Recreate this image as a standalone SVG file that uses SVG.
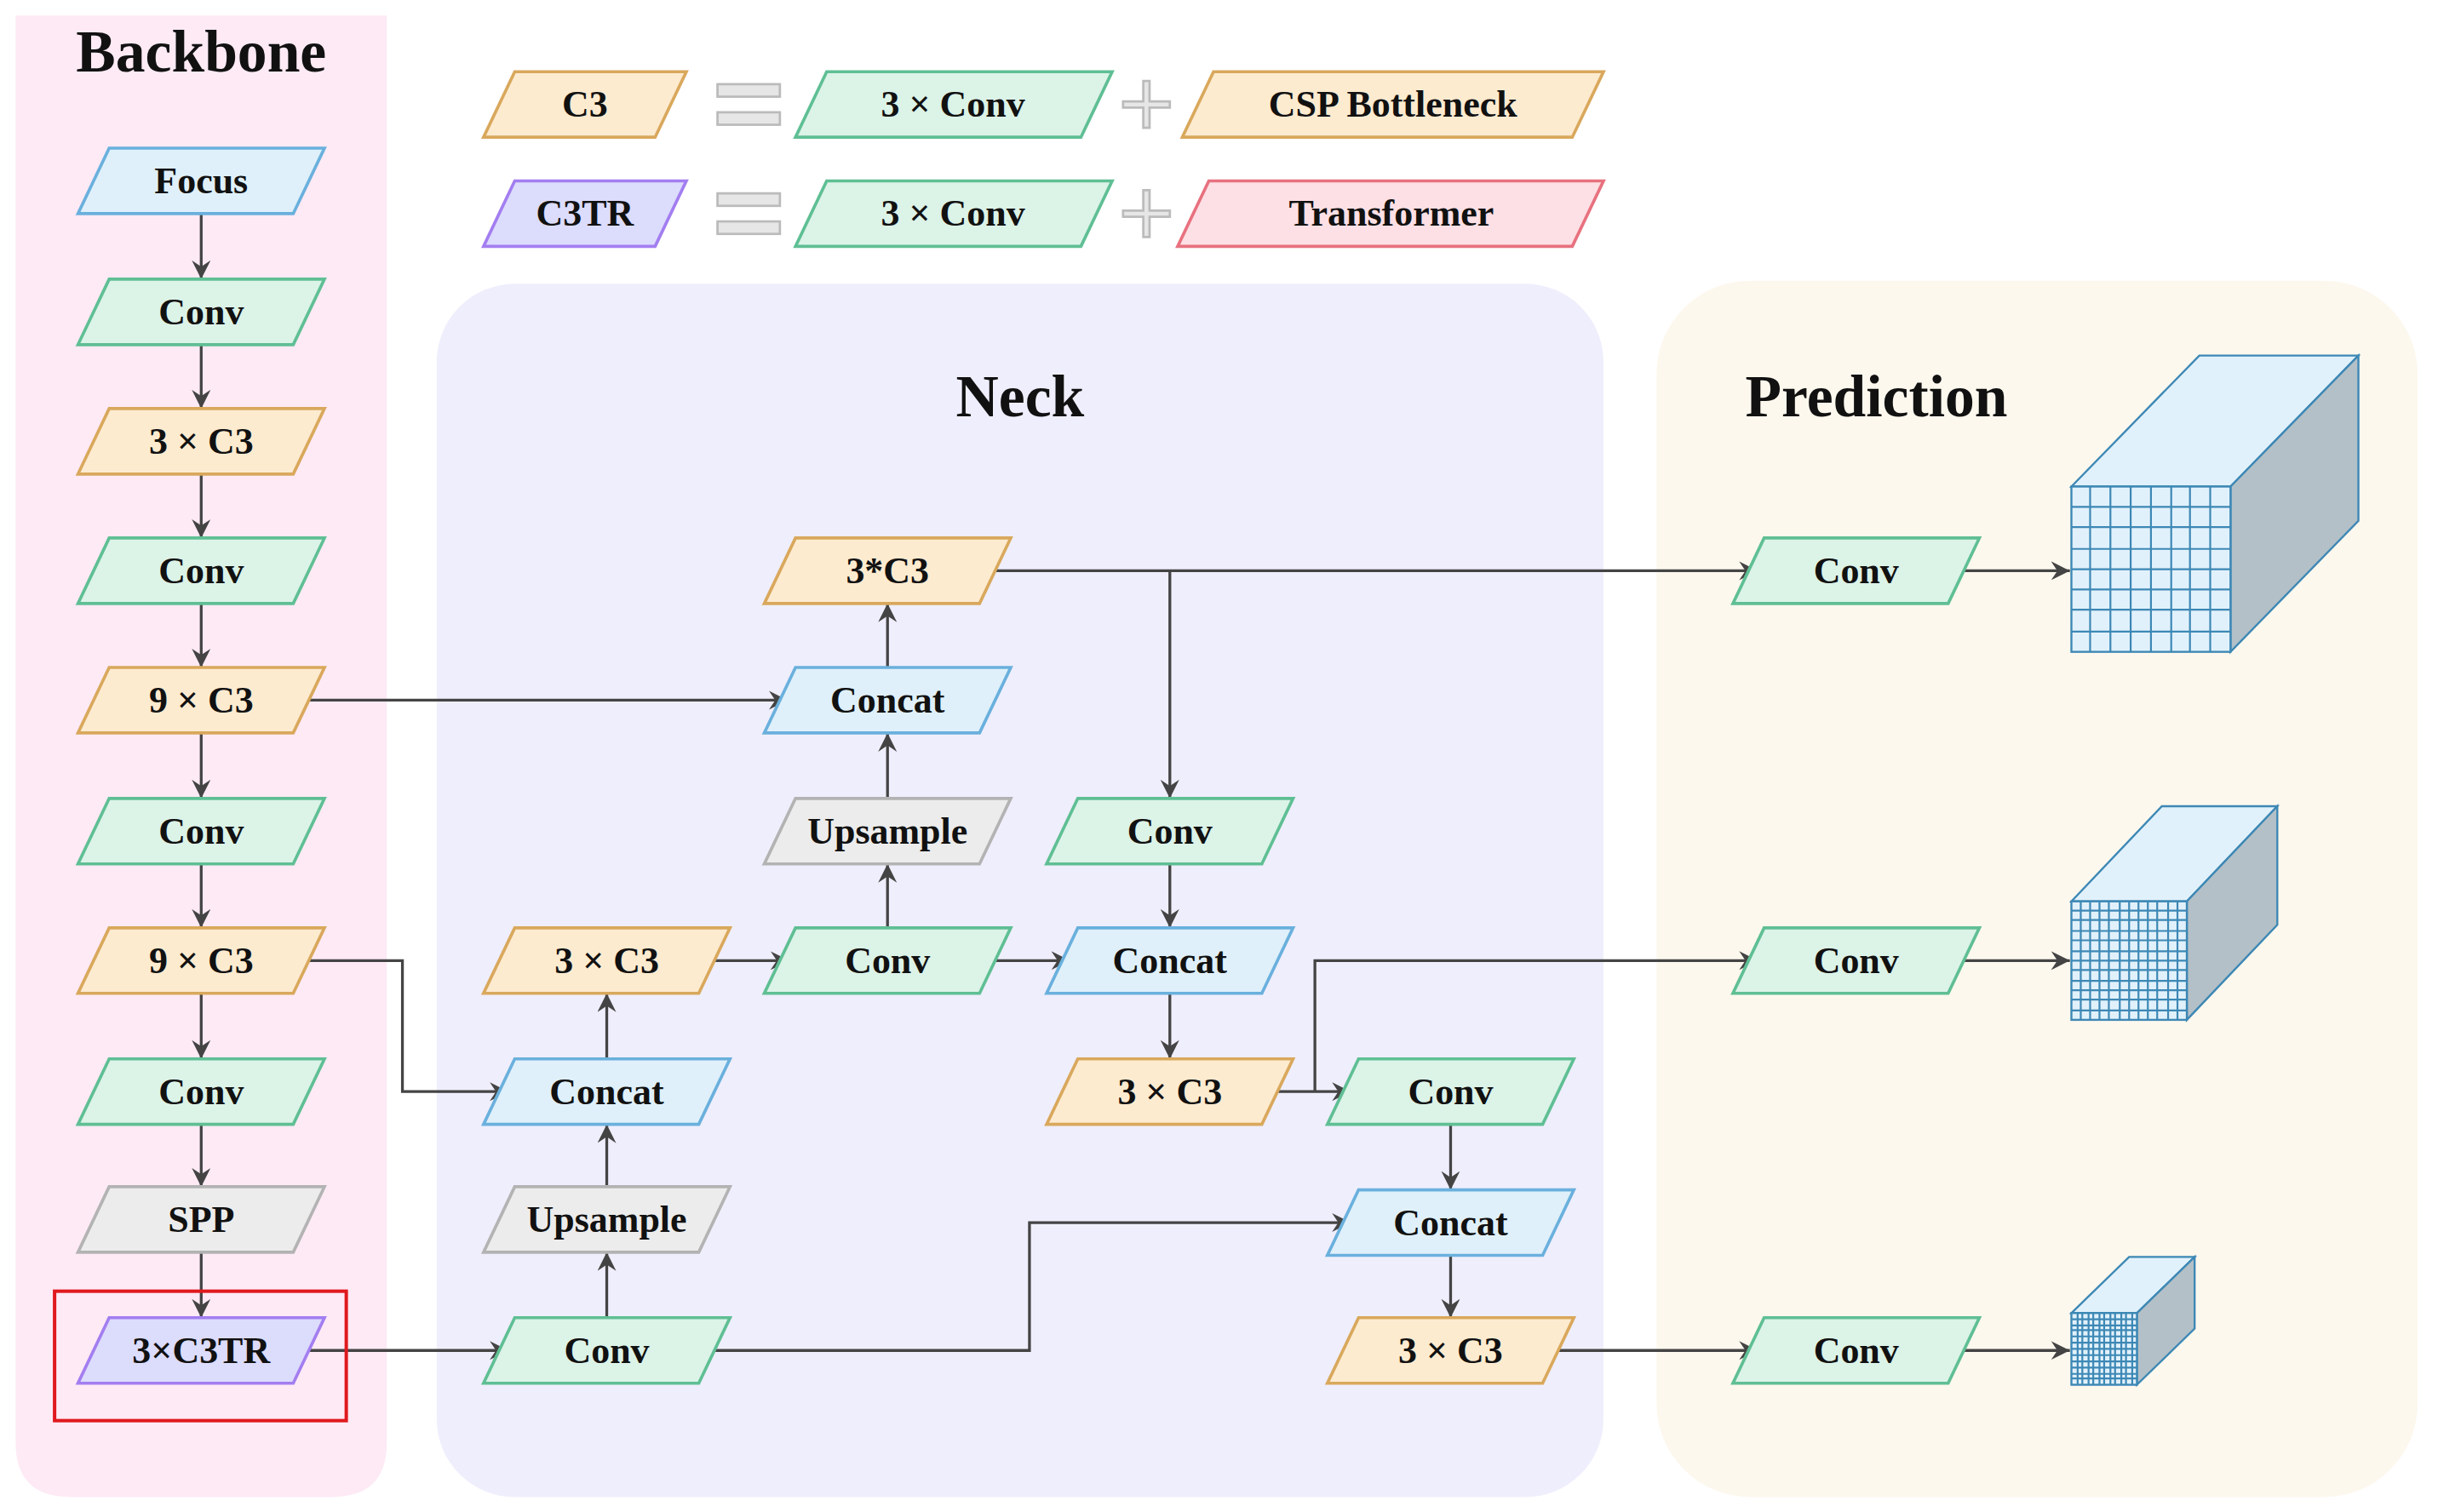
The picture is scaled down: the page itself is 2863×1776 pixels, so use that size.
<svg xmlns="http://www.w3.org/2000/svg" xmlns:xlink="http://www.w3.org/1999/xlink" width="2863" height="1776" viewBox="0 0 2863 1776">
<style>
.t{font-family:"Liberation Serif","Times New Roman",serif;font-weight:bold;font-size:24px;text-anchor:middle;dominant-baseline:central;fill:#111}
.title{font-size:38px}
.g{fill:#dcf3e8;stroke:#5fbf94}
.o{fill:#fdebd0;stroke:#d9a85c}
.b{fill:#dff0fa;stroke:#6ab0dd}
.s{fill:#ececec;stroke:#b3b3b3}
.p{fill:#dcdcfc;stroke:#a37ef0}
.r{fill:#fde0e5;stroke:#e8717f}
.c{fill:none;stroke:#444;stroke-width:1.8;marker-end:url(#ah)}
.cf{fill:#e1f1fb;stroke:#3d88b5;stroke-width:1.3}
.cs{fill:#b3c0c8;stroke:#3d88b5;stroke-width:1.3}
.grid{stroke:#3d88b5;stroke-width:1.2;fill:none}
</style>
<defs>
<path id="pg" d="M-59,-21 H79 L59,21 H-79 Z" stroke-width="2"/>
<marker id="ah" markerWidth="14" markerHeight="14" refX="12" refY="6" orient="auto" markerUnits="userSpaceOnUse"><path d="M0,0 L12,6 L0,12 L4,6 Z" fill="#444"/></marker>
</defs>
<rect width="2863" height="1776" fill="#fff"/>
<g transform="scale(1.8317)">
<g id="panels">
<path d="M10,10 H248 V925 Q248,960 213,960 H45 Q10,960 10,925 Z" fill="#fdeaf5"/>
<rect x="280" y="182" width="748" height="778" rx="50" fill="#efeefc"/>
<rect x="1062" y="180" width="488" height="780" rx="60" fill="#fdf8ee"/>
<text class="t title" x="129" y="33">Backbone</text>
<text class="t title" x="654" y="254">Neck</text>
<text class="t title" x="1203" y="254">Prediction</text>
</g>
<g id="legend">
<path d="M330,46 H440 L420,88 H310 Z" class="o" stroke-width="2"/><text class="t" x="375" y="67">C3</text>
<path d="M330,116 H440 L420,158 H310 Z" class="p" stroke-width="2"/><text class="t" x="375" y="137">C3TR</text>
<path d="M530,46 H713 L693,88 H510 Z" class="g" stroke-width="2"/><text class="t" x="611" y="67">3 × Conv</text>
<path d="M530,116 H713 L693,158 H510 Z" class="g" stroke-width="2"/><text class="t" x="611" y="137">3 × Conv</text>
<path d="M778,46 H1028 L1008,88 H758 Z" class="o" stroke-width="2"/><text class="t" x="893" y="67">CSP Bottleneck</text>
<path d="M775,116 H1028 L1008,158 H755 Z" class="r" stroke-width="2"/><text class="t" x="892" y="137">Transformer</text>
<g fill="#e6e6e6" stroke="#bbb" stroke-width="1.5">
<rect x="460" y="54" width="40" height="8"/><rect x="460" y="72" width="40" height="8"/>
<rect x="460" y="124" width="40" height="8"/><rect x="460" y="142" width="40" height="8"/>
<path d="M733,52 h4 v13 h13 v4 h-13 v13 h-4 v-13 h-13 v-4 h13 Z"/>
<path d="M733,122 h4 v13 h13 v4 h-13 v13 h-4 v-13 h-13 v-4 h13 Z"/>
</g>
</g>
<g id="connectors">
<path class="c" d="M129,137 V179"/>
<path class="c" d="M129,221 V262"/>
<path class="c" d="M129,304 V345"/>
<path class="c" d="M129,387 V428"/>
<path class="c" d="M129,470 V512"/>
<path class="c" d="M129,554 V595"/>
<path class="c" d="M129,637 V679"/>
<path class="c" d="M129,721 V761"/>
<path class="c" d="M129,803 V845"/>
<path class="c" d="M196,449 H505"/>
<path class="c" d="M196,616 H258 V700 H326"/>
<path class="c" d="M196,866 H326"/>
<path class="c" d="M389,845 V803"/>
<path class="c" d="M389,761 V721"/>
<path class="c" d="M389,679 V637"/>
<path class="c" d="M455,616 H506"/>
<path class="c" d="M569,595 V554"/>
<path class="c" d="M569,512 V470"/>
<path class="c" d="M569,428 V387"/>
<path class="c" d="M632,616 H686"/>
<path class="c" d="M632,366 H1127"/>
<path class="c" d="M750,366 V512"/>
<path class="c" d="M750,554 V595"/>
<path class="c" d="M750,637 V679"/>
<path class="c" d="M814,700 H866"/>
<path class="c" d="M843,700 V616 H1127"/>
<path class="c" d="M453,866 H660 V784 H866"/>
<path class="c" d="M930,721 V763"/>
<path class="c" d="M930,805 V845"/>
<path class="c" d="M994,866 H1127"/>
<path class="c" d="M1254,366 H1327"/>
<path class="c" d="M1254,616 H1327"/>
<path class="c" d="M1254,866 H1327"/>
</g>
<g id="backbone">
<g id="n-focus"><use xlink:href="#pg" class="b" x="129" y="116"/><text class="t" x="129" y="116">Focus</text></g>
<g id="n-conv1"><use xlink:href="#pg" class="g" x="129" y="200"/><text class="t" x="129" y="200">Conv</text></g>
<g id="n-c3a"><use xlink:href="#pg" class="o" x="129" y="283"/><text class="t" x="129" y="283">3 × C3</text></g>
<g id="n-conv2"><use xlink:href="#pg" class="g" x="129" y="366"/><text class="t" x="129" y="366">Conv</text></g>
<g id="n-c3b"><use xlink:href="#pg" class="o" x="129" y="449"/><text class="t" x="129" y="449">9 × C3</text></g>
<g id="n-conv3"><use xlink:href="#pg" class="g" x="129" y="533"/><text class="t" x="129" y="533">Conv</text></g>
<g id="n-c3c"><use xlink:href="#pg" class="o" x="129" y="616"/><text class="t" x="129" y="616">9 × C3</text></g>
<g id="n-conv4"><use xlink:href="#pg" class="g" x="129" y="700"/><text class="t" x="129" y="700">Conv</text></g>
<g id="n-spp"><use xlink:href="#pg" class="s" x="129" y="782"/><text class="t" x="129" y="782">SPP</text></g>
<g id="n-c3tr"><use xlink:href="#pg" class="p" x="129" y="866"/><text class="t" x="129" y="866">3×C3TR</text>
<rect x="35" y="828" width="187" height="83" fill="none" stroke="#e0191e" stroke-width="2.2"/></g>
</g>
<g id="neck">
<g id="k1"><use xlink:href="#pg" class="o" x="389" y="616"/><text class="t" x="389" y="616">3 × C3</text></g>
<g id="k2"><use xlink:href="#pg" class="b" x="389" y="700"/><text class="t" x="389" y="700">Concat</text></g>
<g id="k3"><use xlink:href="#pg" class="s" x="389" y="782"/><text class="t" x="389" y="782">Upsample</text></g>
<g id="k4"><use xlink:href="#pg" class="g" x="389" y="866"/><text class="t" x="389" y="866">Conv</text></g>
<g id="k5"><use xlink:href="#pg" class="o" x="569" y="366"/><text class="t" x="569" y="366">3*C3</text></g>
<g id="k6"><use xlink:href="#pg" class="b" x="569" y="449"/><text class="t" x="569" y="449">Concat</text></g>
<g id="k7"><use xlink:href="#pg" class="s" x="569" y="533"/><text class="t" x="569" y="533">Upsample</text></g>
<g id="k8"><use xlink:href="#pg" class="g" x="569" y="616"/><text class="t" x="569" y="616">Conv</text></g>
<g id="k9"><use xlink:href="#pg" class="g" x="750" y="533"/><text class="t" x="750" y="533">Conv</text></g>
<g id="k10"><use xlink:href="#pg" class="b" x="750" y="616"/><text class="t" x="750" y="616">Concat</text></g>
<g id="k11"><use xlink:href="#pg" class="o" x="750" y="700"/><text class="t" x="750" y="700">3 × C3</text></g>
<g id="k12"><use xlink:href="#pg" class="g" x="930" y="700"/><text class="t" x="930" y="700">Conv</text></g>
<g id="k13"><use xlink:href="#pg" class="b" x="930" y="784"/><text class="t" x="930" y="784">Concat</text></g>
<g id="k14"><use xlink:href="#pg" class="o" x="930" y="866"/><text class="t" x="930" y="866">3 × C3</text></g>
</g>
<g id="prediction">
<g id="p1"><use xlink:href="#pg" class="g" x="1190" y="366"/><text class="t" x="1190" y="366">Conv</text></g>
<g id="p2"><use xlink:href="#pg" class="g" x="1190" y="616"/><text class="t" x="1190" y="616">Conv</text></g>
<g id="p3"><use xlink:href="#pg" class="g" x="1190" y="866"/><text class="t" x="1190" y="866">Conv</text></g>
<g id="cube1">
<path class="cf" d="M1328,312 L1410,228 H1512 L1430,312 Z"/>
<path class="cs" d="M1430,312 L1512,228 V334 L1430,418 Z"/>
<rect class="cf" x="1328" y="312" width="102" height="106"/>
<path class="grid" d="M1340,312V418M1353,312V418M1366,312V418M1379,312V418M1392,312V418M1404,312V418M1417,312V418M1328,325H1430M1328,338H1430M1328,352H1430M1328,365H1430M1328,378H1430M1328,391H1430M1328,405H1430"/>
</g>
<g id="cube2">
<path class="cf" d="M1328,578 L1386,517 H1460 L1402,578 Z"/>
<path class="cs" d="M1402,578 L1460,517 V593 L1402,654 Z"/>
<rect class="cf" x="1328" y="578" width="74" height="76"/>
<path class="grid" d="M1334,578V654M1340,578V654M1346,578V654M1352,578V654M1359,578V654M1365,578V654M1371,578V654M1377,578V654M1383,578V654M1390,578V654M1396,578V654M1328,584H1402M1328,590H1402M1328,597H1402M1328,603H1402M1328,610H1402M1328,616H1402M1328,622H1402M1328,629H1402M1328,635H1402M1328,641H1402M1328,648H1402"/>
</g>
<g id="cube3">
<path class="cf" d="M1328,842 L1365,806 H1407 L1370,842 Z"/>
<path class="cs" d="M1370,842 L1407,806 V852 L1370,888 Z"/>
<rect class="cf" x="1328" y="842" width="42" height="46"/>
<path class="grid" stroke-width="0.8" d="M1332,842V888M1335,842V888M1339,842V888M1342,842V888M1346,842V888M1349,842V888M1353,842V888M1356,842V888M1360,842V888M1363,842V888M1367,842V888M1328,846H1370M1328,850H1370M1328,853H1370M1328,857H1370M1328,861H1370M1328,865H1370M1328,869H1370M1328,873H1370M1328,877H1370M1328,881H1370M1328,884H1370"/>
</g>
</g>
</g>
</svg>
